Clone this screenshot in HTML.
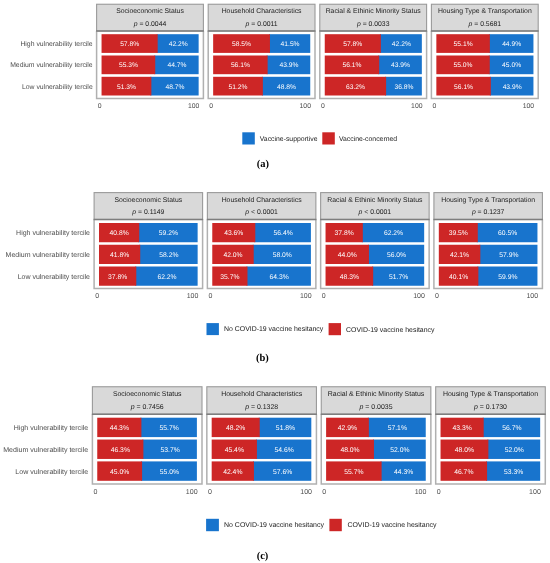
<!DOCTYPE html>
<html><head><meta charset="utf-8"><style>
html,body{margin:0;padding:0;background:#fff;width:550px;height:563px;overflow:hidden}
svg{display:block}
text{font-family:'Liberation Sans', Arial, sans-serif;text-rendering:geometricPrecision}
text.lab{font-family:'Liberation Serif', 'Times New Roman', serif;font-weight:bold;font-size:10.5px;fill:#000}
</style></head><body>
<svg width="550" height="563" viewBox="0 0 550 563">
<rect x="96.60" y="4.25" width="106.80" height="26.75" fill="#D9D9D9" stroke="#9A9A9A" stroke-width="1.1"/>
<path d="M96.60 31.00 V98.40 H203.40 V31.00" fill="none" stroke="#B0B0B0" stroke-width="1.5"/>
<line x1="96.10" x2="203.90" y1="31.00" y2="31.00" stroke="#7E7E7E" stroke-width="1.5"/>
<text x="150.00" y="12.65" text-anchor="middle" fill="#1A1A1A" font-size="6.85">Socioeconomic Status</text>
<text x="150.00" y="25.55" text-anchor="middle" fill="#1A1A1A" font-size="6.85"><tspan font-style="italic">p</tspan> = 0.0044</text>
<rect x="156.67" y="34.20" width="41.97" height="18.70" fill="#1874CD"/>
<rect x="101.55" y="34.20" width="56.12" height="18.70" fill="#CD2626"/>
<text x="129.61" y="45.95" text-anchor="middle" fill="#FFFFFF" font-size="6.70">57.8%</text>
<text x="178.15" y="45.95" text-anchor="middle" fill="#FFFFFF" font-size="6.70">42.2%</text>
<rect x="154.24" y="55.50" width="44.40" height="18.70" fill="#1874CD"/>
<rect x="101.55" y="55.50" width="53.69" height="18.70" fill="#CD2626"/>
<text x="128.40" y="67.25" text-anchor="middle" fill="#FFFFFF" font-size="6.70">55.3%</text>
<text x="176.94" y="67.25" text-anchor="middle" fill="#FFFFFF" font-size="6.70">44.7%</text>
<rect x="150.36" y="76.80" width="48.28" height="18.70" fill="#1874CD"/>
<rect x="101.55" y="76.80" width="49.81" height="18.70" fill="#CD2626"/>
<text x="126.45" y="88.55" text-anchor="middle" fill="#FFFFFF" font-size="6.70">51.3%</text>
<text x="175.00" y="88.55" text-anchor="middle" fill="#FFFFFF" font-size="6.70">48.7%</text>
<text x="97.75" y="107.70" fill="#4D4D4D" font-size="6.85">0</text>
<text x="199.34" y="107.70" text-anchor="end" fill="#4D4D4D" font-size="6.85">100</text>
<rect x="208.20" y="4.25" width="106.80" height="26.75" fill="#D9D9D9" stroke="#9A9A9A" stroke-width="1.1"/>
<path d="M208.20 31.00 V98.40 H315.00 V31.00" fill="none" stroke="#B0B0B0" stroke-width="1.5"/>
<line x1="207.70" x2="315.50" y1="31.00" y2="31.00" stroke="#7E7E7E" stroke-width="1.5"/>
<text x="261.60" y="12.65" text-anchor="middle" fill="#1A1A1A" font-size="6.85">Household Characteristics</text>
<text x="261.60" y="25.55" text-anchor="middle" fill="#1A1A1A" font-size="6.85"><tspan font-style="italic">p</tspan> = 0.0011</text>
<rect x="268.95" y="34.20" width="41.29" height="18.70" fill="#1874CD"/>
<rect x="213.15" y="34.20" width="56.80" height="18.70" fill="#CD2626"/>
<text x="241.55" y="45.95" text-anchor="middle" fill="#FFFFFF" font-size="6.70">58.5%</text>
<text x="290.09" y="45.95" text-anchor="middle" fill="#FFFFFF" font-size="6.70">41.5%</text>
<rect x="266.62" y="55.50" width="43.62" height="18.70" fill="#1874CD"/>
<rect x="213.15" y="55.50" width="54.47" height="18.70" fill="#CD2626"/>
<text x="240.38" y="67.25" text-anchor="middle" fill="#FFFFFF" font-size="6.70">56.1%</text>
<text x="288.93" y="67.25" text-anchor="middle" fill="#FFFFFF" font-size="6.70">43.9%</text>
<rect x="261.86" y="76.80" width="48.38" height="18.70" fill="#1874CD"/>
<rect x="213.15" y="76.80" width="49.71" height="18.70" fill="#CD2626"/>
<text x="238.01" y="88.55" text-anchor="middle" fill="#FFFFFF" font-size="6.70">51.2%</text>
<text x="286.55" y="88.55" text-anchor="middle" fill="#FFFFFF" font-size="6.70">48.8%</text>
<text x="209.35" y="107.70" fill="#4D4D4D" font-size="6.85">0</text>
<text x="310.94" y="107.70" text-anchor="end" fill="#4D4D4D" font-size="6.85">100</text>
<rect x="319.80" y="4.25" width="106.80" height="26.75" fill="#D9D9D9" stroke="#9A9A9A" stroke-width="1.1"/>
<path d="M319.80 31.00 V98.40 H426.60 V31.00" fill="none" stroke="#B0B0B0" stroke-width="1.5"/>
<line x1="319.30" x2="427.10" y1="31.00" y2="31.00" stroke="#7E7E7E" stroke-width="1.5"/>
<text x="373.20" y="12.65" text-anchor="middle" fill="#1A1A1A" font-size="6.85">Racial &amp; Ethinic Minority Status</text>
<text x="373.20" y="25.55" text-anchor="middle" fill="#1A1A1A" font-size="6.85"><tspan font-style="italic">p</tspan> = 0.0033</text>
<rect x="379.87" y="34.20" width="41.97" height="18.70" fill="#1874CD"/>
<rect x="324.75" y="34.20" width="56.12" height="18.70" fill="#CD2626"/>
<text x="352.81" y="45.95" text-anchor="middle" fill="#FFFFFF" font-size="6.70">57.8%</text>
<text x="401.35" y="45.95" text-anchor="middle" fill="#FFFFFF" font-size="6.70">42.2%</text>
<rect x="378.22" y="55.50" width="43.62" height="18.70" fill="#1874CD"/>
<rect x="324.75" y="55.50" width="54.47" height="18.70" fill="#CD2626"/>
<text x="351.98" y="67.25" text-anchor="middle" fill="#FFFFFF" font-size="6.70">56.1%</text>
<text x="400.53" y="67.25" text-anchor="middle" fill="#FFFFFF" font-size="6.70">43.9%</text>
<rect x="385.11" y="76.80" width="36.73" height="18.70" fill="#1874CD"/>
<rect x="324.75" y="76.80" width="61.36" height="18.70" fill="#CD2626"/>
<text x="355.43" y="88.55" text-anchor="middle" fill="#FFFFFF" font-size="6.70">63.2%</text>
<text x="403.98" y="88.55" text-anchor="middle" fill="#FFFFFF" font-size="6.70">36.8%</text>
<text x="320.95" y="107.70" fill="#4D4D4D" font-size="6.85">0</text>
<text x="422.54" y="107.70" text-anchor="end" fill="#4D4D4D" font-size="6.85">100</text>
<rect x="431.40" y="4.25" width="106.80" height="26.75" fill="#D9D9D9" stroke="#9A9A9A" stroke-width="1.1"/>
<path d="M431.40 31.00 V98.40 H538.20 V31.00" fill="none" stroke="#B0B0B0" stroke-width="1.5"/>
<line x1="430.90" x2="538.70" y1="31.00" y2="31.00" stroke="#7E7E7E" stroke-width="1.5"/>
<text x="484.80" y="12.65" text-anchor="middle" fill="#1A1A1A" font-size="6.85">Housing Type &amp; Transportation</text>
<text x="484.80" y="25.55" text-anchor="middle" fill="#1A1A1A" font-size="6.85"><tspan font-style="italic">p</tspan> = 0.5681</text>
<rect x="488.85" y="34.20" width="44.59" height="18.70" fill="#1874CD"/>
<rect x="436.35" y="34.20" width="53.50" height="18.70" fill="#CD2626"/>
<text x="463.10" y="45.95" text-anchor="middle" fill="#FFFFFF" font-size="6.70">55.1%</text>
<text x="511.64" y="45.95" text-anchor="middle" fill="#FFFFFF" font-size="6.70">44.9%</text>
<rect x="488.75" y="55.50" width="44.69" height="18.70" fill="#1874CD"/>
<rect x="436.35" y="55.50" width="53.40" height="18.70" fill="#CD2626"/>
<text x="463.05" y="67.25" text-anchor="middle" fill="#FFFFFF" font-size="6.70">55.0%</text>
<text x="511.60" y="67.25" text-anchor="middle" fill="#FFFFFF" font-size="6.70">45.0%</text>
<rect x="489.82" y="76.80" width="43.62" height="18.70" fill="#1874CD"/>
<rect x="436.35" y="76.80" width="54.47" height="18.70" fill="#CD2626"/>
<text x="463.58" y="88.55" text-anchor="middle" fill="#FFFFFF" font-size="6.70">56.1%</text>
<text x="512.13" y="88.55" text-anchor="middle" fill="#FFFFFF" font-size="6.70">43.9%</text>
<text x="432.55" y="107.70" fill="#4D4D4D" font-size="6.85">0</text>
<text x="534.14" y="107.70" text-anchor="end" fill="#4D4D4D" font-size="6.85">100</text>
<text x="92.70" y="46.00" text-anchor="end" fill="#4D4D4D" font-size="6.85">High vulnerability tercile</text>
<text x="92.70" y="67.30" text-anchor="end" fill="#4D4D4D" font-size="6.85">Medium vulnerability tercile</text>
<text x="92.70" y="88.60" text-anchor="end" fill="#4D4D4D" font-size="6.85">Low vulnerability tercile</text>
<rect x="242.30" y="132.30" width="12.50" height="12.20" fill="#1874CD"/>
<text x="259.80" y="140.85" fill="#1A1A1A" font-size="6.85">Vaccine-supportive</text>
<rect x="322.30" y="132.30" width="12.50" height="12.20" fill="#CD2626"/>
<text x="339.00" y="140.85" fill="#1A1A1A" font-size="6.85">Vaccine-concerned</text>
<text class="lab" x="256.70" y="167.00">(a)</text>
<rect x="94.10" y="192.60" width="108.50" height="26.90" fill="#D9D9D9" stroke="#9A9A9A" stroke-width="1.1"/>
<path d="M94.10 219.50 V288.60 H202.60 V219.50" fill="none" stroke="#B0B0B0" stroke-width="1.5"/>
<line x1="93.60" x2="203.10" y1="219.50" y2="219.50" stroke="#7E7E7E" stroke-width="1.5"/>
<text x="148.35" y="201.80" text-anchor="middle" fill="#1A1A1A" font-size="6.85">Socioeconomic Status</text>
<text x="148.35" y="214.40" text-anchor="middle" fill="#1A1A1A" font-size="6.85"><tspan font-style="italic">p</tspan> = 0.1149</text>
<rect x="138.24" y="223.00" width="59.39" height="19.25" fill="#1874CD"/>
<rect x="99.00" y="223.00" width="40.24" height="19.25" fill="#CD2626"/>
<text x="119.12" y="235.04" text-anchor="middle" fill="#FFFFFF" font-size="6.75">40.8%</text>
<text x="168.44" y="235.04" text-anchor="middle" fill="#FFFFFF" font-size="6.75">59.2%</text>
<rect x="139.23" y="244.75" width="58.41" height="19.25" fill="#1874CD"/>
<rect x="99.00" y="244.75" width="41.23" height="19.25" fill="#CD2626"/>
<text x="119.61" y="256.79" text-anchor="middle" fill="#FFFFFF" font-size="6.75">41.8%</text>
<text x="168.93" y="256.79" text-anchor="middle" fill="#FFFFFF" font-size="6.75">58.2%</text>
<rect x="135.28" y="266.50" width="62.35" height="19.25" fill="#1874CD"/>
<rect x="99.00" y="266.50" width="37.28" height="19.25" fill="#CD2626"/>
<text x="117.64" y="278.54" text-anchor="middle" fill="#FFFFFF" font-size="6.75">37.8%</text>
<text x="166.96" y="278.54" text-anchor="middle" fill="#FFFFFF" font-size="6.75">62.2%</text>
<text x="95.20" y="297.90" fill="#4D4D4D" font-size="7.0">0</text>
<text x="198.34" y="297.90" text-anchor="end" fill="#4D4D4D" font-size="7.0">100</text>
<rect x="207.37" y="192.60" width="108.50" height="26.90" fill="#D9D9D9" stroke="#9A9A9A" stroke-width="1.1"/>
<path d="M207.37 219.50 V288.60 H315.87 V219.50" fill="none" stroke="#B0B0B0" stroke-width="1.5"/>
<line x1="206.87" x2="316.37" y1="219.50" y2="219.50" stroke="#7E7E7E" stroke-width="1.5"/>
<text x="261.62" y="201.80" text-anchor="middle" fill="#1A1A1A" font-size="6.85">Household Characteristics</text>
<text x="261.62" y="214.40" text-anchor="middle" fill="#1A1A1A" font-size="6.85"><tspan font-style="italic">p</tspan> &lt; 0.0001</text>
<rect x="254.28" y="223.00" width="56.63" height="19.25" fill="#1874CD"/>
<rect x="212.27" y="223.00" width="43.01" height="19.25" fill="#CD2626"/>
<text x="233.77" y="235.04" text-anchor="middle" fill="#FFFFFF" font-size="6.75">43.6%</text>
<text x="283.09" y="235.04" text-anchor="middle" fill="#FFFFFF" font-size="6.75">56.4%</text>
<rect x="252.70" y="244.75" width="58.21" height="19.25" fill="#1874CD"/>
<rect x="212.27" y="244.75" width="41.43" height="19.25" fill="#CD2626"/>
<text x="232.98" y="256.79" text-anchor="middle" fill="#FFFFFF" font-size="6.75">42.0%</text>
<text x="282.30" y="256.79" text-anchor="middle" fill="#FFFFFF" font-size="6.75">58.0%</text>
<rect x="246.48" y="266.50" width="64.42" height="19.25" fill="#1874CD"/>
<rect x="212.27" y="266.50" width="35.21" height="19.25" fill="#CD2626"/>
<text x="229.88" y="278.54" text-anchor="middle" fill="#FFFFFF" font-size="6.75">35.7%</text>
<text x="279.19" y="278.54" text-anchor="middle" fill="#FFFFFF" font-size="6.75">64.3%</text>
<text x="208.47" y="297.90" fill="#4D4D4D" font-size="7.0">0</text>
<text x="311.61" y="297.90" text-anchor="end" fill="#4D4D4D" font-size="7.0">100</text>
<rect x="320.64" y="192.60" width="108.50" height="26.90" fill="#D9D9D9" stroke="#9A9A9A" stroke-width="1.1"/>
<path d="M320.64 219.50 V288.60 H429.14 V219.50" fill="none" stroke="#B0B0B0" stroke-width="1.5"/>
<line x1="320.14" x2="429.64" y1="219.50" y2="219.50" stroke="#7E7E7E" stroke-width="1.5"/>
<text x="374.89" y="201.80" text-anchor="middle" fill="#1A1A1A" font-size="6.85">Racial &amp; Ethinic Minority Status</text>
<text x="374.89" y="214.40" text-anchor="middle" fill="#1A1A1A" font-size="6.85"><tspan font-style="italic">p</tspan> &lt; 0.0001</text>
<rect x="361.82" y="223.00" width="62.35" height="19.25" fill="#1874CD"/>
<rect x="325.54" y="223.00" width="37.28" height="19.25" fill="#CD2626"/>
<text x="344.18" y="235.04" text-anchor="middle" fill="#FFFFFF" font-size="6.75">37.8%</text>
<text x="393.50" y="235.04" text-anchor="middle" fill="#FFFFFF" font-size="6.75">62.2%</text>
<rect x="367.94" y="244.75" width="56.24" height="19.25" fill="#1874CD"/>
<rect x="325.54" y="244.75" width="43.40" height="19.25" fill="#CD2626"/>
<text x="347.24" y="256.79" text-anchor="middle" fill="#FFFFFF" font-size="6.75">44.0%</text>
<text x="396.56" y="256.79" text-anchor="middle" fill="#FFFFFF" font-size="6.75">56.0%</text>
<rect x="372.18" y="266.50" width="52.00" height="19.25" fill="#1874CD"/>
<rect x="325.54" y="266.50" width="47.64" height="19.25" fill="#CD2626"/>
<text x="349.36" y="278.54" text-anchor="middle" fill="#FFFFFF" font-size="6.75">48.3%</text>
<text x="398.68" y="278.54" text-anchor="middle" fill="#FFFFFF" font-size="6.75">51.7%</text>
<text x="321.74" y="297.90" fill="#4D4D4D" font-size="7.0">0</text>
<text x="424.88" y="297.90" text-anchor="end" fill="#4D4D4D" font-size="7.0">100</text>
<rect x="433.91" y="192.60" width="108.50" height="26.90" fill="#D9D9D9" stroke="#9A9A9A" stroke-width="1.1"/>
<path d="M433.91 219.50 V288.60 H542.41 V219.50" fill="none" stroke="#B0B0B0" stroke-width="1.5"/>
<line x1="433.41" x2="542.91" y1="219.50" y2="219.50" stroke="#7E7E7E" stroke-width="1.5"/>
<text x="488.16" y="201.80" text-anchor="middle" fill="#1A1A1A" font-size="6.85">Housing Type &amp; Transportation</text>
<text x="488.16" y="214.40" text-anchor="middle" fill="#1A1A1A" font-size="6.85"><tspan font-style="italic">p</tspan> = 0.1237</text>
<rect x="476.77" y="223.00" width="60.68" height="19.25" fill="#1874CD"/>
<rect x="438.81" y="223.00" width="38.96" height="19.25" fill="#CD2626"/>
<text x="458.29" y="235.04" text-anchor="middle" fill="#FFFFFF" font-size="6.75">39.5%</text>
<text x="507.61" y="235.04" text-anchor="middle" fill="#FFFFFF" font-size="6.75">60.5%</text>
<rect x="479.34" y="244.75" width="58.11" height="19.25" fill="#1874CD"/>
<rect x="438.81" y="244.75" width="41.53" height="19.25" fill="#CD2626"/>
<text x="459.57" y="256.79" text-anchor="middle" fill="#FFFFFF" font-size="6.75">42.1%</text>
<text x="508.89" y="256.79" text-anchor="middle" fill="#FFFFFF" font-size="6.75">57.9%</text>
<rect x="477.36" y="266.50" width="60.08" height="19.25" fill="#1874CD"/>
<rect x="438.81" y="266.50" width="39.55" height="19.25" fill="#CD2626"/>
<text x="458.59" y="278.54" text-anchor="middle" fill="#FFFFFF" font-size="6.75">40.1%</text>
<text x="507.90" y="278.54" text-anchor="middle" fill="#FFFFFF" font-size="6.75">59.9%</text>
<text x="435.01" y="297.90" fill="#4D4D4D" font-size="7.0">0</text>
<text x="538.15" y="297.90" text-anchor="end" fill="#4D4D4D" font-size="7.0">100</text>
<text x="90.00" y="235.13" text-anchor="end" fill="#4D4D4D" font-size="7.0">High vulnerability tercile</text>
<text x="90.00" y="256.88" text-anchor="end" fill="#4D4D4D" font-size="7.0">Medium vulnerability tercile</text>
<text x="90.00" y="278.63" text-anchor="end" fill="#4D4D4D" font-size="7.0">Low vulnerability tercile</text>
<rect x="206.50" y="323.10" width="12.40" height="12.00" fill="#1874CD"/>
<text x="224.00" y="331.48" fill="#1A1A1A" font-size="6.93">No COVID-19 vaccine hesitancy</text>
<rect x="328.60" y="323.10" width="12.40" height="12.10" fill="#CD2626"/>
<text x="346.00" y="331.53" fill="#1A1A1A" font-size="6.93">COVID-19 vaccine hesitancy</text>
<text class="lab" x="256.00" y="360.50">(b)</text>
<rect x="92.40" y="386.75" width="109.60" height="27.45" fill="#D9D9D9" stroke="#9A9A9A" stroke-width="1.1"/>
<path d="M92.40 414.20 V483.90 H202.00 V414.20" fill="none" stroke="#B0B0B0" stroke-width="1.5"/>
<line x1="91.90" x2="202.50" y1="414.20" y2="414.20" stroke="#7E7E7E" stroke-width="1.5"/>
<text x="147.20" y="396.10" text-anchor="middle" fill="#1A1A1A" font-size="6.95">Socioeconomic Status</text>
<text x="147.20" y="408.95" text-anchor="middle" fill="#1A1A1A" font-size="6.95"><tspan font-style="italic">p</tspan> = 0.7456</text>
<rect x="140.39" y="417.70" width="56.50" height="19.40" fill="#1874CD"/>
<rect x="97.25" y="417.70" width="44.14" height="19.40" fill="#CD2626"/>
<text x="119.32" y="429.83" text-anchor="middle" fill="#FFFFFF" font-size="6.80">44.3%</text>
<text x="169.14" y="429.83" text-anchor="middle" fill="#FFFFFF" font-size="6.80">55.7%</text>
<rect x="142.38" y="439.55" width="54.50" height="19.40" fill="#1874CD"/>
<rect x="97.25" y="439.55" width="46.13" height="19.40" fill="#CD2626"/>
<text x="120.32" y="451.68" text-anchor="middle" fill="#FFFFFF" font-size="6.80">46.3%</text>
<text x="170.13" y="451.68" text-anchor="middle" fill="#FFFFFF" font-size="6.80">53.7%</text>
<rect x="141.09" y="461.40" width="55.80" height="19.40" fill="#1874CD"/>
<rect x="97.25" y="461.40" width="44.84" height="19.40" fill="#CD2626"/>
<text x="119.67" y="473.53" text-anchor="middle" fill="#FFFFFF" font-size="6.80">45.0%</text>
<text x="169.49" y="473.53" text-anchor="middle" fill="#FFFFFF" font-size="6.80">55.0%</text>
<text x="93.45" y="493.50" fill="#4D4D4D" font-size="7.05">0</text>
<text x="197.59" y="493.50" text-anchor="end" fill="#4D4D4D" font-size="7.05">100</text>
<rect x="206.83" y="386.75" width="109.60" height="27.45" fill="#D9D9D9" stroke="#9A9A9A" stroke-width="1.1"/>
<path d="M206.83 414.20 V483.90 H316.43 V414.20" fill="none" stroke="#B0B0B0" stroke-width="1.5"/>
<line x1="206.33" x2="316.93" y1="414.20" y2="414.20" stroke="#7E7E7E" stroke-width="1.5"/>
<text x="261.63" y="396.10" text-anchor="middle" fill="#1A1A1A" font-size="6.95">Household Characteristics</text>
<text x="261.63" y="408.95" text-anchor="middle" fill="#1A1A1A" font-size="6.95"><tspan font-style="italic">p</tspan> = 0.1328</text>
<rect x="258.70" y="417.70" width="52.61" height="19.40" fill="#1874CD"/>
<rect x="211.68" y="417.70" width="48.02" height="19.40" fill="#CD2626"/>
<text x="235.69" y="429.83" text-anchor="middle" fill="#FFFFFF" font-size="6.80">48.2%</text>
<text x="285.51" y="429.83" text-anchor="middle" fill="#FFFFFF" font-size="6.80">51.8%</text>
<rect x="255.91" y="439.55" width="55.40" height="19.40" fill="#1874CD"/>
<rect x="211.68" y="439.55" width="45.23" height="19.40" fill="#CD2626"/>
<text x="234.30" y="451.68" text-anchor="middle" fill="#FFFFFF" font-size="6.80">45.4%</text>
<text x="284.12" y="451.68" text-anchor="middle" fill="#FFFFFF" font-size="6.80">54.6%</text>
<rect x="252.93" y="461.40" width="58.39" height="19.40" fill="#1874CD"/>
<rect x="211.68" y="461.40" width="42.25" height="19.40" fill="#CD2626"/>
<text x="232.80" y="473.53" text-anchor="middle" fill="#FFFFFF" font-size="6.80">42.4%</text>
<text x="282.62" y="473.53" text-anchor="middle" fill="#FFFFFF" font-size="6.80">57.6%</text>
<text x="207.88" y="493.50" fill="#4D4D4D" font-size="7.05">0</text>
<text x="312.02" y="493.50" text-anchor="end" fill="#4D4D4D" font-size="7.05">100</text>
<rect x="321.26" y="386.75" width="109.60" height="27.45" fill="#D9D9D9" stroke="#9A9A9A" stroke-width="1.1"/>
<path d="M321.26 414.20 V483.90 H430.86 V414.20" fill="none" stroke="#B0B0B0" stroke-width="1.5"/>
<line x1="320.76" x2="431.36" y1="414.20" y2="414.20" stroke="#7E7E7E" stroke-width="1.5"/>
<text x="376.06" y="396.10" text-anchor="middle" fill="#1A1A1A" font-size="6.95">Racial &amp; Ethinic Minority Status</text>
<text x="376.06" y="408.95" text-anchor="middle" fill="#1A1A1A" font-size="6.95"><tspan font-style="italic">p</tspan> = 0.0035</text>
<rect x="367.85" y="417.70" width="57.89" height="19.40" fill="#1874CD"/>
<rect x="326.11" y="417.70" width="42.74" height="19.40" fill="#CD2626"/>
<text x="347.48" y="429.83" text-anchor="middle" fill="#FFFFFF" font-size="6.80">42.9%</text>
<text x="397.30" y="429.83" text-anchor="middle" fill="#FFFFFF" font-size="6.80">57.1%</text>
<rect x="372.94" y="439.55" width="52.81" height="19.40" fill="#1874CD"/>
<rect x="326.11" y="439.55" width="47.83" height="19.40" fill="#CD2626"/>
<text x="350.02" y="451.68" text-anchor="middle" fill="#FFFFFF" font-size="6.80">48.0%</text>
<text x="399.84" y="451.68" text-anchor="middle" fill="#FFFFFF" font-size="6.80">52.0%</text>
<rect x="380.61" y="461.40" width="45.14" height="19.40" fill="#1874CD"/>
<rect x="326.11" y="461.40" width="55.50" height="19.40" fill="#CD2626"/>
<text x="353.86" y="473.53" text-anchor="middle" fill="#FFFFFF" font-size="6.80">55.7%</text>
<text x="403.68" y="473.53" text-anchor="middle" fill="#FFFFFF" font-size="6.80">44.3%</text>
<text x="322.31" y="493.50" fill="#4D4D4D" font-size="7.05">0</text>
<text x="426.45" y="493.50" text-anchor="end" fill="#4D4D4D" font-size="7.05">100</text>
<rect x="435.69" y="386.75" width="109.60" height="27.45" fill="#D9D9D9" stroke="#9A9A9A" stroke-width="1.1"/>
<path d="M435.69 414.20 V483.90 H545.29 V414.20" fill="none" stroke="#B0B0B0" stroke-width="1.5"/>
<line x1="435.19" x2="545.79" y1="414.20" y2="414.20" stroke="#7E7E7E" stroke-width="1.5"/>
<text x="490.49" y="396.10" text-anchor="middle" fill="#1A1A1A" font-size="6.95">Housing Type &amp; Transportation</text>
<text x="490.49" y="408.95" text-anchor="middle" fill="#1A1A1A" font-size="6.95"><tspan font-style="italic">p</tspan> = 0.1730</text>
<rect x="482.68" y="417.70" width="57.49" height="19.40" fill="#1874CD"/>
<rect x="440.54" y="417.70" width="43.14" height="19.40" fill="#CD2626"/>
<text x="462.11" y="429.83" text-anchor="middle" fill="#FFFFFF" font-size="6.80">43.3%</text>
<text x="511.93" y="429.83" text-anchor="middle" fill="#FFFFFF" font-size="6.80">56.7%</text>
<rect x="487.37" y="439.55" width="52.81" height="19.40" fill="#1874CD"/>
<rect x="440.54" y="439.55" width="47.83" height="19.40" fill="#CD2626"/>
<text x="464.45" y="451.68" text-anchor="middle" fill="#FFFFFF" font-size="6.80">48.0%</text>
<text x="514.27" y="451.68" text-anchor="middle" fill="#FFFFFF" font-size="6.80">52.0%</text>
<rect x="486.07" y="461.40" width="54.11" height="19.40" fill="#1874CD"/>
<rect x="440.54" y="461.40" width="46.53" height="19.40" fill="#CD2626"/>
<text x="463.81" y="473.53" text-anchor="middle" fill="#FFFFFF" font-size="6.80">46.7%</text>
<text x="513.62" y="473.53" text-anchor="middle" fill="#FFFFFF" font-size="6.80">53.3%</text>
<text x="436.74" y="493.50" fill="#4D4D4D" font-size="7.05">0</text>
<text x="540.88" y="493.50" text-anchor="end" fill="#4D4D4D" font-size="7.05">100</text>
<text x="88.20" y="429.92" text-anchor="end" fill="#4D4D4D" font-size="7.05">High vulnerability tercile</text>
<text x="88.20" y="451.77" text-anchor="end" fill="#4D4D4D" font-size="7.05">Medium vulnerability tercile</text>
<text x="88.20" y="473.62" text-anchor="end" fill="#4D4D4D" font-size="7.05">Low vulnerability tercile</text>
<rect x="206.10" y="518.80" width="12.80" height="12.40" fill="#1874CD"/>
<text x="224.00" y="527.35" fill="#1A1A1A" font-size="6.97">No COVID-19 vaccine hesitancy</text>
<rect x="329.40" y="518.80" width="12.40" height="12.40" fill="#CD2626"/>
<text x="347.40" y="527.35" fill="#1A1A1A" font-size="6.97">COVID-19 vaccine hesitancy</text>
<text class="lab" x="256.70" y="558.50">(c)</text>
</svg>
</body></html>
